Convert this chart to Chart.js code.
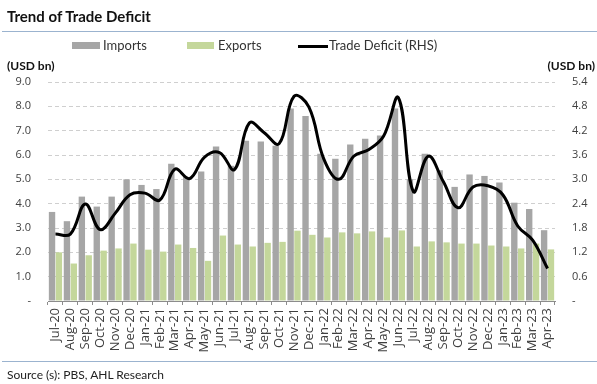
<!DOCTYPE html>
<html>
<head>
<meta charset="utf-8">
<script src="https://cdn.jsdelivr.net/npm/chart.js@4.4.0/dist/chart.umd.min.js"></script>
<style>
  body { margin: 0; background: #fff; }
  #wrap { position: relative; width: 597px; height: 384px; overflow: hidden; font-family: Lato, 'Open Sans', sans-serif; color: #222; }
  #wrap canvas { position: absolute; left: 0; top: 0; }
  .abs { position: absolute; white-space: nowrap; }
  .title { left: 7px; top: 7px; font-size: 15px; font-weight: bold; color: #111; }
  .rule { position: absolute; left: 2px; right: 0; height: 1px; background: #9bb3cf; }
  .leg { font-size: 13px; color: #333; top: 37px; }
  .box { position: absolute; height: 7px; top: 42px; }
  .unit { font-size: 12px; font-weight: bold; top: 58px; color: #111; }
  .src { left: 7px; top: 367px; font-size: 12px; color: #222; }
</style>
</head>
<body>
<div id="wrap">
  <canvas id="myChart" width="597" height="384"></canvas>
  <div class="abs title">Trend of Trade Deficit</div>
  <div class="rule" style="top:31px"></div>
  <div class="box" style="left:72px;width:28px;background:#a6a6a6"></div>
  <div class="abs leg" style="left:103px">Imports</div>
  <div class="box" style="left:187px;width:27px;background:#c4d79b"></div>
  <div class="abs leg" style="left:218px">Exports</div>
  <div class="box" style="left:298px;width:30px;height:3px;top:45px;background:#000"></div>
  <div class="abs leg" style="left:329px">Trade Deficit (RHS)</div>
  <div class="abs unit" style="left:7px">(USD bn)</div>
  <div class="abs unit" style="right:2px">(USD bn)</div>
  <div class="rule" style="top:361px"></div>
  <div class="abs src">Source (s): PBS, AHL Research</div>
</div>
<script>
const months = [
  'Jul-20', 'Aug-20', 'Sep-20', 'Oct-20', 'Nov-20', 'Dec-20',
  'Jan-21', 'Feb-21', 'Mar-21', 'Apr-21', 'May-21', 'Jun-21',
  'Jul-21', 'Aug-21', 'Sep-21', 'Oct-21', 'Nov-21', 'Dec-21',
  'Jan-22', 'Feb-22', 'Mar-22', 'Apr-22', 'May-22', 'Jun-22',
  'Jul-22', 'Aug-22', 'Sep-22', 'Oct-22', 'Nov-22', 'Dec-22',
  'Jan-23', 'Feb-23', 'Mar-23', 'Apr-23',
]

// USD bn, left axis
const imports = [
  3.66, 3.28, 4.29, 3.88, 4.29, 5.0, 4.77, 4.6, 5.64, 5.1, 5.32, 6.35,
  5.56, 6.59, 6.55, 6.38, 7.91, 7.6, 6.05, 5.85, 6.43, 6.67, 6.8, 7.91,
  5.0, 6.05, 5.37, 4.69, 5.2, 5.14, 4.87, 4.04, 3.78, 2.91,
]
const exports = [
  2.0, 1.54, 1.88, 2.07, 2.16, 2.36, 2.11, 2.03, 2.32, 2.18, 1.65, 2.69,
  2.32, 2.24, 2.39, 2.43, 2.89, 2.72, 2.61, 2.82, 2.78, 2.86, 2.61, 2.9,
  2.24, 2.45, 2.41, 2.36, 2.36, 2.28, 2.24, 2.16, 2.36, 2.12,
]
// USD bn, right axis
const tradeDeficit = [
  1.65, 1.65, 2.39, 1.76, 2.16, 2.62, 2.66, 2.49, 3.25, 3.02, 3.55, 3.66,
  3.24, 4.39, 4.15, 3.88, 5.05, 4.78, 3.5, 3.0, 3.57, 3.73, 4.06, 5.01,
  2.7, 3.57, 2.95, 2.3, 2.81, 2.84, 2.62, 1.85, 1.5, 0.8,
]

const tickFont = { family: "'Open Sans', sans-serif", size: 11 }
const tickColor = '#404040'

const config = {
  data: {
    labels: months,
    datasets: [
      {
        type: 'line',
        label: 'Trade Deficit (RHS)',
        data: tradeDeficit,
        yAxisID: 'y1',
        borderColor: '#000',
        borderWidth: 3,
        tension: 0.4,
        pointRadius: 0,
        order: 0,
      },
      {
        type: 'bar',
        label: 'Imports',
        data: imports,
        yAxisID: 'y',
        backgroundColor: '#a6a6a6',
        categoryPercentage: 0.92,
        barPercentage: 0.93,
        order: 1,
      },
      {
        type: 'bar',
        label: 'Exports',
        data: exports,
        yAxisID: 'y',
        backgroundColor: '#c4d79b',
        categoryPercentage: 0.92,
        barPercentage: 0.93,
        order: 1,
      },
    ],
  },
  options: {
    responsive: false,
    animation: false,
    devicePixelRatio: 1,
    layout: { padding: { left: 0, right: 0, top: 82, bottom: 21 } },
    plugins: {
      legend: { display: false },
      tooltip: { enabled: false },
    },
    scales: {
      x: {
        offset: true,
        grid: {
          offset: true,
          drawOnChartArea: false,
          drawTicks: true,
          tickLength: 4,
          color: '#8c8c8c',
        },
        border: { display: true, color: '#8c8c8c' },
        ticks: {
          autoSkip: false,
          minRotation: 90,
          maxRotation: 90,
          padding: 3,
          font: { family: "'Open Sans', sans-serif", size: 13 },
          color: tickColor,
        },
        afterFit: (scale) => { scale.height = 62 },
      },
      y: {
        position: 'left',
        min: 0,
        max: 9,
        ticks: {
          stepSize: 1,
          padding: 17,
          font: tickFont,
          color: tickColor,
          callback: (v) => (v === 0 ? '-' : v.toFixed(1)),
        },
        grid: {
          drawTicks: false,
          color: (ctx) => (ctx.tick && ctx.tick.value === 0 ? 'rgba(0,0,0,0)' : '#cfcfcf'),
        },
        border: { display: false, dash: [4, 3] },
        afterFit: (scale) => { scale.width = 48 },
      },
      y1: {
        position: 'right',
        min: 0,
        max: 5.4,
        ticks: {
          stepSize: 0.6,
          padding: 17,
          font: tickFont,
          color: tickColor,
          callback: (v) => (Math.abs(v) < 1e-6 ? '-' : v.toFixed(1)),
        },
        grid: { display: false, drawTicks: false },
        border: { display: false },
        afterFit: (scale) => { scale.width = 42 },
      },
    },
  },
}

var myChart = new Chart(document.getElementById('myChart'), config)
</script>
</body>
</html>
